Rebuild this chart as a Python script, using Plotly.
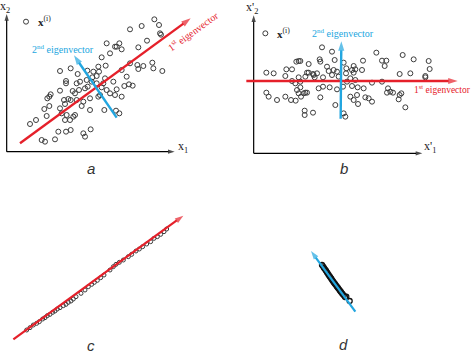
import plotly.graph_objects as go

# ---- data (panel-local units; y grows downward) ----
a_x = [463,477,425,390,480,483,441,320,358,350,365,415,305,457,487,460,412,430,415,390,365,317,295,
       180,212,233,262,280,297,277,260,240,230,198,198,180,152,148,142,218,237,263,275,290,315,340,
       310,320,330,345,350,365,373,387,398,300,295,270,270,250,245,230,212,205,192,195,180,185,200,
       220,225,210,195,148,133,140,108,90,175,198,212,250,255,272,165,125,135,313,348,358,380,
       345,330,255,225,290,305]
a_y = [58,75,78,88,100,104,122,130,130,140,148,142,172,188,213,205,195,198,207,190,210,197,200,
       213,205,222,212,215,215,232,240,245,250,243,250,272,283,290,295,273,270,260,245,228,235,245,
       250,270,280,285,268,290,258,253,257,285,290,295,330,305,318,300,300,297,300,312,325,340,345,
       350,345,360,360,318,327,348,360,372,395,395,390,400,410,388,418,420,425,330,332,340,230,
       140,160,265,280,250,262]

b_x = [88,110,148,165,145,178,185,190,215,215,230,233,248,250,255,285,293,270,275,290,285,300,305,
       258,240,228,205,210,185,190,175,165,320,328,327,345,350,355,350,378,375,340,355,345,330,362,
       418,435,448,443,497,530,575,578,520,488,565,565,405,435,453,460,450,468,488,493,485,505,
       88,95,120,145,162,176,180,190,185,205,210,200,192,245,258,278,300,250,295,203,203,228,320,
       325,318,340,360,350,363,385,395,405,380]
b_y = [218,220,208,208,228,185,183,183,192,218,225,232,178,185,142,155,180,200,213,210,225,215,230,
       232,220,222,230,218,232,245,250,243,188,205,220,210,218,208,198,182,210,235,240,258,245,262,
       158,182,182,198,165,178,183,207,220,222,228,232,248,245,265,275,278,278,285,280,298,322,
       278,290,300,290,300,302,270,262,280,278,278,280,290,265,260,262,268,292,315,332,345,338,340,
       350,260,290,285,300,312,292,295,305,265]

c_x = [80,90,100,110,118,128,135,142,150,158,165,172,180,190,198,205,213,220,228,243,255,265,275,
       283,292,302,312,330,340,348,358,370,385,395,408,418,428,440,452,462,472,482,492,500]
c_y = [465,458,450,445,440,432,428,422,418,412,408,402,398,392,388,382,378,372,365,355,345,335,328,
       322,316,308,300,285,275,268,262,255,245,238,228,222,215,207,200,190,185,178,170,162]

d_x = [255,258,261,264,267,270,272,275,278,280,283,286,288,291,294,297,300,303,306,309,312,316,320,
       324,328,338]
d_y = [270,274,279,283,287,292,295,300,304,307,311,316,319,323,327,331,335,339,343,347,351,356,361,
       366,365,378]

legend_a = ([78], [65])
legend_b = ([85], [100])

# eigenvector / axis arrows: (tail, head) pairs in panel-local units
a_axis_y = ([20, 20], [455, 42]);   a_axis_x = ([20, 524], [455, 455])
a_ev1 = ([60, 572], [430, 55]);     a_ev2 = ([350, 222], [353, 166])
b_axis_y = ([50, 50], [460, 46]);   b_axis_x = ([50, 556], [460, 460])
b_ev1 = ([28, 662], [243, 243]);    b_ev2 = ([311, 313], [356, 124])
c_ev1 = ([40, 550], [493, 122])
d_ev2 = ([355, 222], [410, 228])

RED = "#E5202A"
BLUE = "#22A6E0"
DOT = "#3c3c3c"
SERIF = "Liberation Serif"

fig = go.Figure()

marker = dict(symbol="circle-open", size=5, color=DOT, line=dict(width=1, color=DOT))

def arrow(ax, ay, xs, ys, color, width, head):
    fig.add_trace(go.Scatter(
        x=xs, y=ys, xaxis=ax, yaxis=ay, mode="lines+markers",
        line=dict(color=color, width=width),
        marker=dict(symbol=["circle", "arrow"], size=[0, head], color=color,
                    angleref="previous", line=dict(width=0)),
        hoverinfo="skip"))

fig.add_trace(go.Scatter(x=a_x, y=a_y, mode="markers", marker=marker, xaxis="x", yaxis="y"))
fig.add_trace(go.Scatter(x=legend_a[0], y=legend_a[1], mode="markers", marker=marker, xaxis="x", yaxis="y"))
fig.add_trace(go.Scatter(x=b_x, y=b_y, mode="markers", marker=marker, xaxis="x2", yaxis="y2"))
fig.add_trace(go.Scatter(x=legend_b[0], y=legend_b[1], mode="markers", marker=marker, xaxis="x2", yaxis="y2"))
fig.add_trace(go.Scatter(x=c_x, y=c_y, mode="markers",
                         marker=dict(symbol="circle-open", size=4, color=DOT, line=dict(width=1, color=DOT)),
                         xaxis="x3", yaxis="y3"))
fig.add_trace(go.Scatter(x=d_x, y=d_y, mode="markers",
                         marker=dict(symbol="circle-open", size=5, color="#111", line=dict(width=1.3, color="#111")),
                         xaxis="x4", yaxis="y4"))

arrow("x", "y", *a_axis_y, "black", 1.2, 7)
arrow("x", "y", *a_axis_x, "black", 1.2, 7)
arrow("x", "y", *a_ev1, RED, 2.4, 10)
arrow("x", "y", *a_ev2, BLUE, 2.4, 10)
arrow("x2", "y2", *b_axis_y, "black", 1.2, 7)
arrow("x2", "y2", *b_axis_x, "black", 1.2, 7)
arrow("x2", "y2", *b_ev1, RED, 2.4, 10)
arrow("x2", "y2", *b_ev2, BLUE, 2.4, 10)
arrow("x3", "y3", *c_ev1, RED, 2.2, 9)
arrow("x4", "y4", *d_ev2, BLUE, 2.2, 9)

top = 175 / 351
ax_common = dict(visible=False, fixedrange=True)
fig.update_layout(
    xaxis=dict(domain=[0, 0.5], range=[0, 711], **ax_common),
    yaxis=dict(domain=[1 - top, 1], range=[525, 0], **ax_common),
    xaxis2=dict(domain=[0.5, 1], range=[0, 711], **ax_common),
    yaxis2=dict(domain=[1 - top, 1], range=[525, 0], **ax_common),
    xaxis3=dict(domain=[0, 0.5], range=[0, 711], **ax_common),
    yaxis3=dict(domain=[0, 1 - top], range=[528, 0], **ax_common),
    xaxis4=dict(domain=[0.5, 1], range=[0, 711], **ax_common),
    yaxis4=dict(domain=[0, 1 - top], range=[528, 0], **ax_common),
    width=474, height=351, margin=dict(l=0, r=0, t=0, b=0),
    paper_bgcolor="white", plot_bgcolor="white", showlegend=False,
)

def label(xr, yr, x, y, text, color="#222", size=10, angle=0, family=SERIF, xanchor="center"):
    fig.add_annotation(xref=xr, yref=yr, x=x, y=y, text=text, showarrow=False, textangle=angle,
                       font=dict(family=family, size=size, color=color), xanchor=xanchor)

# panel a
label("x", "y", 16, 22, "x<sub>2</sub>", size=12)
label("x", "y", 548, 440, "x<sub>1</sub>", size=12)
label("x", "y", 108, 62, "<b>x</b><sup>(i)</sup>", size=11, xanchor="left")
label("x", "y", 190, 146, "2<sup>nd</sup> eigenvector", color=BLUE, size=10)
label("x", "y", 578, 92, "1<sup>st</sup> eigenvector", color=RED, size=10, angle=-36)
label("x", "y", 272, 505, "<i>a</i>", size=15, family="Liberation Sans", color="#333")

# panel b
label("x2", "y2", 46, 24, "x'<sub>2</sub>", size=12)
label("x2", "y2", 580, 442, "x'<sub>1</sub>", size=12)
label("x2", "y2", 115, 98, "<b>x</b><sup>(i)</sup>", size=11, xanchor="left")
label("x2", "y2", 317, 98, "2<sup>nd</sup> eigenvector", color=BLUE, size=10)
label("x2", "y2", 708, 268, "1<sup>st</sup> eigenvector", color=RED, size=9.5, xanchor="right")
label("x2", "y2", 320, 505, "<i>b</i>", size=15, family="Liberation Sans", color="#333")

# panel c / d captions
label("x3", "y3", 273, 510, "<i>c</i>", size=15, family="Liberation Sans", color="#333")
label("x4", "y4", 320, 508, "<i>d</i>", size=15, family="Liberation Sans", color="#333")

fig.write_html("out.html")
